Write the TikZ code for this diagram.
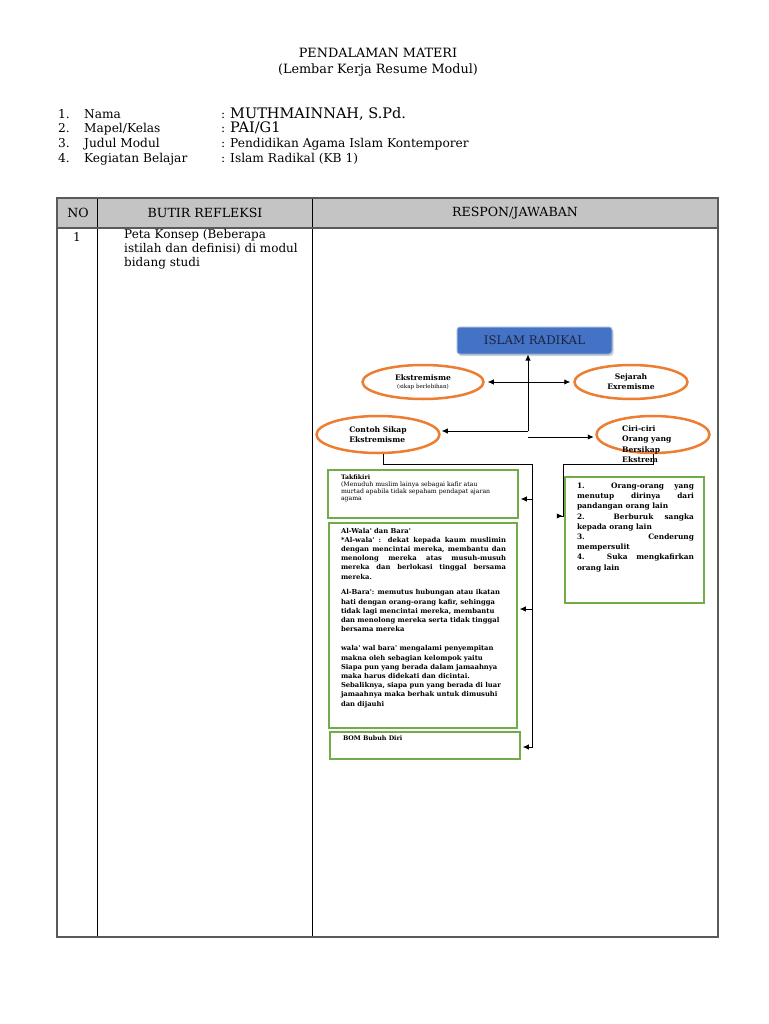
\documentclass[tikz,border=0pt]{standalone}
\usepackage{fontspec}
\setmainfont{DejaVu Serif}
\usetikzlibrary{shapes.geometric,shadows,arrows.meta}
\definecolor{ovalorange}{HTML}{ED7D31}
\definecolor{boxgreen}{HTML}{70AD47}
\definecolor{radblue}{HTML}{4472C4}
\definecolor{navytext}{HTML}{1B2440}
\definecolor{headgray}{HTML}{C4C4C4}
\definecolor{framegray}{HTML}{5A5A5A}
\tikzset{
  >={Latex[length=6pt,width=5.5pt]},
  oval/.style={draw=ovalorange, line width=2.5pt, fill=white, ellipse, inner sep=0pt,
    align=center, font=\bfseries\fontsize{7.6}{10}\selectfont},
  greenbox/.style={draw=boxgreen, line width=2.5pt, fill=white, inner sep=0pt},
  conn/.style={line width=0.9pt},
}
\begin{document}
\begin{tikzpicture}[x=1pt,y=-1pt]
\useasboundingbox[fill=white] (0,0) rectangle (768,1024);

% judul
\node[font=\fontsize{12.8}{14}\selectfont] (judul) at (378,53) {PENDALAMAN MATERI};
\node[font=\fontsize{12.8}{14}\selectfont] (sub) at (378,70) {(Lembar Kerja Resume Modul)};

% identitas
\begin{scope}[every node/.style={anchor=base west, inner sep=0pt, font=\fontsize{12.2}{14}\selectfont}]
\node (n1) at (58,119) {1.};
\node (n2) at (58,133) {2.};
\node (n3) at (58,148) {3.};
\node (n4) at (58,163) {4.};
\node (l1) at (84,119) {Nama};
\node (l2) at (84,133) {Mapel/Kelas};
\node (l3) at (84,148) {Judul Modul};
\node (l4) at (84,163) {Kegiatan Belajar};
\node (c1) at (221,119) {:};
\node (c2) at (221,133) {:};
\node (c3) at (221,148) {:};
\node (c4) at (221,163) {:};
\node[font=\fontsize{14.5}{14}\selectfont] (v1) at (230,119) {MUTHMAINNAH, S.Pd.};
\node[font=\fontsize{14.5}{14}\selectfont] (v2) at (230,133) {PAI/G1};
\node (v3) at (230,148) {Pendidikan Agama Islam Kontemporer};
\node (v4) at (230,163) {Islam Radikal (KB 1)};
\end{scope}

% tabel
\fill[headgray] (57,198) rectangle (718,228);
\draw[line width=0.8pt] (97,198) -- (97,937);
\draw[line width=0.8pt] (312,198) -- (312,937);
\draw[framegray, line width=1.2pt] (57,228) -- (718,228);
\draw[framegray, line width=1.8pt] (57,198) rectangle (718,937);
\node[font=\fontsize{12.6}{13}\selectfont] (hno) at (78,213) {NO};
\node[font=\fontsize{12.6}{13}\selectfont] (hbutir) at (205,213) {BUTIR REFLEKSI};
\node[font=\fontsize{12.6}{13}\selectfont] (hrespon) at (515,213) {RESPON/JAWABAN};
\node[font=\fontsize{12}{13}\selectfont] (no1) at (77,237) {1};
\node[anchor=north west, inner sep=0pt, align=left, font=\fontsize{12}{14}\selectfont]
  (butir1) at (124,229) {Peta Konsep (Beberapa\\istilah dan definisi) di modul\\bidang studi};

% peta konsep
\node[draw=radblue!55!white, line width=1pt, fill=radblue, rounded corners=3pt,
  minimum width=155pt, minimum height=27pt, text=navytext,
  font=\fontsize{11.8}{12}\selectfont,
  drop shadow={shadow xshift=1.5pt, shadow yshift=-2pt, opacity=0.35}]
  (islam) at (534.5,340.5) {ISLAM RADIKAL};
\node[oval, minimum width=121pt, minimum height=34pt] (ekst) at (423,382)
  {Ekstremisme\\[-1.5pt]{\mdseries\fontsize{5.6}{7}\selectfont(sikap berlebihan)}};
\node[oval, minimum width=113pt, minimum height=34pt] (sej) at (631,382) {Sejarah\\Exremisme};
\node[oval, minimum width=123pt, minimum height=37pt, align=left] (contoh) at (378,434.5)
  {Contoh Sikap\\Ekstremisme};
\node[oval, minimum width=113pt, minimum height=37pt] (ciri) at (653,434.5) {};
\node[anchor=north west, inner sep=0pt, align=left, font=\bfseries\fontsize{7.6}{10.4}\selectfont]
  (ciritxt) at (622,425.5) {Ciri-ciri\\Orang yang\\Bersikap\\Ekstrem};

\node[greenbox] (takfir) at (423,494) {\parbox[c][48pt][t]{190pt}{\hspace*{13pt}\parbox[t]{164pt}{%
  \vspace{5pt}{\bfseries\fontsize{6.2}{7.6}\selectfont Takfikiri}\\
  \fontsize{6.2}{7}\selectfont(Menuduh muslim lainya sebagai kafir atau\\
  murtad apabila tidak sepaham pendapat ajaran\\agama}}};

\node[greenbox] (wala) at (423,625.5) {\parbox[c][205pt][t]{188pt}{\hspace*{12pt}\parbox[t]{165pt}{%
  \bfseries\fontsize{6.8}{9.2}\selectfont
  \vspace{5pt}Al-Wala\textquotesingle\ dan Bara\textquotesingle\\
  \relax*Al-wala\textquotesingle\ : dekat kepada kaum muslimin\linebreak
  dengan mencintai mereka, membantu dan\linebreak
  menolong mereka atas musuh-musuh\linebreak
  mereka dan berlokasi tinggal bersama\linebreak
  mereka.\\[6.5pt]
  Al-Bara\textquotesingle: memutus hubungan atau ikatan\\
  hati dengan orang-orang kafir, sehingga\\
  tidak lagi mencintai mereka, membantu\\
  dan menolong mereka serta tidak tinggal\\
  bersama mereka\\[10pt]
  wala\textquotesingle\ wal bara\textquotesingle\ mengalami penyempitan\\
  makna oleh sebagian kelompok yaitu\\
  Siapa pun yang berada dalam jamaahnya\\
  maka harus didekati dan dicintai.\\
  Sebaliknya, siapa pun yang berada di luar\\
  jamaahnya maka berhak untuk dimusuhi\\
  dan dijauhi}}};

\node[greenbox] (bom) at (425,745.5) {\parbox[c][27pt][t]{190pt}{\hspace*{13pt}\parbox[t]{164pt}{%
  \vspace{4pt}\bfseries\fontsize{6.3}{8}\selectfont BOM Bubuh Diri}}};

\node[greenbox] (ciribox) at (634.5,540) {\parbox[c][126pt][t]{139pt}{\hspace*{12pt}\parbox[t]{117pt}{%
  \bfseries\fontsize{7.4}{10.2}\selectfont
  \vspace{6pt}1. Orang-orang yang\linebreak
  menutup dirinya dari\linebreak
  pandangan orang lain\\
  2. Berburuk sangka\linebreak
  kepada orang lain\\
  3. Cenderung\linebreak
  mempersulit\\
  4. Suka mengkafirkan\linebreak
  orang lain}}};

% panah
\coordinate (hub) at (528,431);
\coordinate (hubb) at (528,437);
\draw[conn, ->] (hub) -- (hub |- islam.south);
\draw[conn, <->, shorten <=3pt, shorten >=3pt] (ekst.east) -- (sej.west);
\draw[conn, ->, shorten >=1pt] (hub) -- (hub -| contoh.east);
\draw[conn, ->, shorten >=1.5pt] (hubb) -- (hubb -| ciri.west);

\coordinate (lturn) at (532,464);
\coordinate (takin) at ([yshift=-5pt]takfir.east);
\coordinate (walain) at ([yshift=16.5pt]wala.east);
\coordinate (bomin) at ([yshift=-1.5pt]bom.east);
\draw[conn, ->, shorten >=1.5pt] ([xshift=5pt]contoh.south) |- (lturn) |- (bomin);
\draw[conn, ->, shorten >=1.5pt] (takin -| lturn) -- (takin);
\draw[conn, ->, shorten >=1.5pt] (walain -| lturn) -- (walain);

\coordinate (rturn) at (563,464);
\coordinate (ciriin) at ([yshift=24pt]ciribox.west);
\draw[conn] (ciri.south) |- (rturn);
\draw[conn, ->, shorten >=1pt] (rturn) |- (ciriin);
\end{tikzpicture}
\end{document}
